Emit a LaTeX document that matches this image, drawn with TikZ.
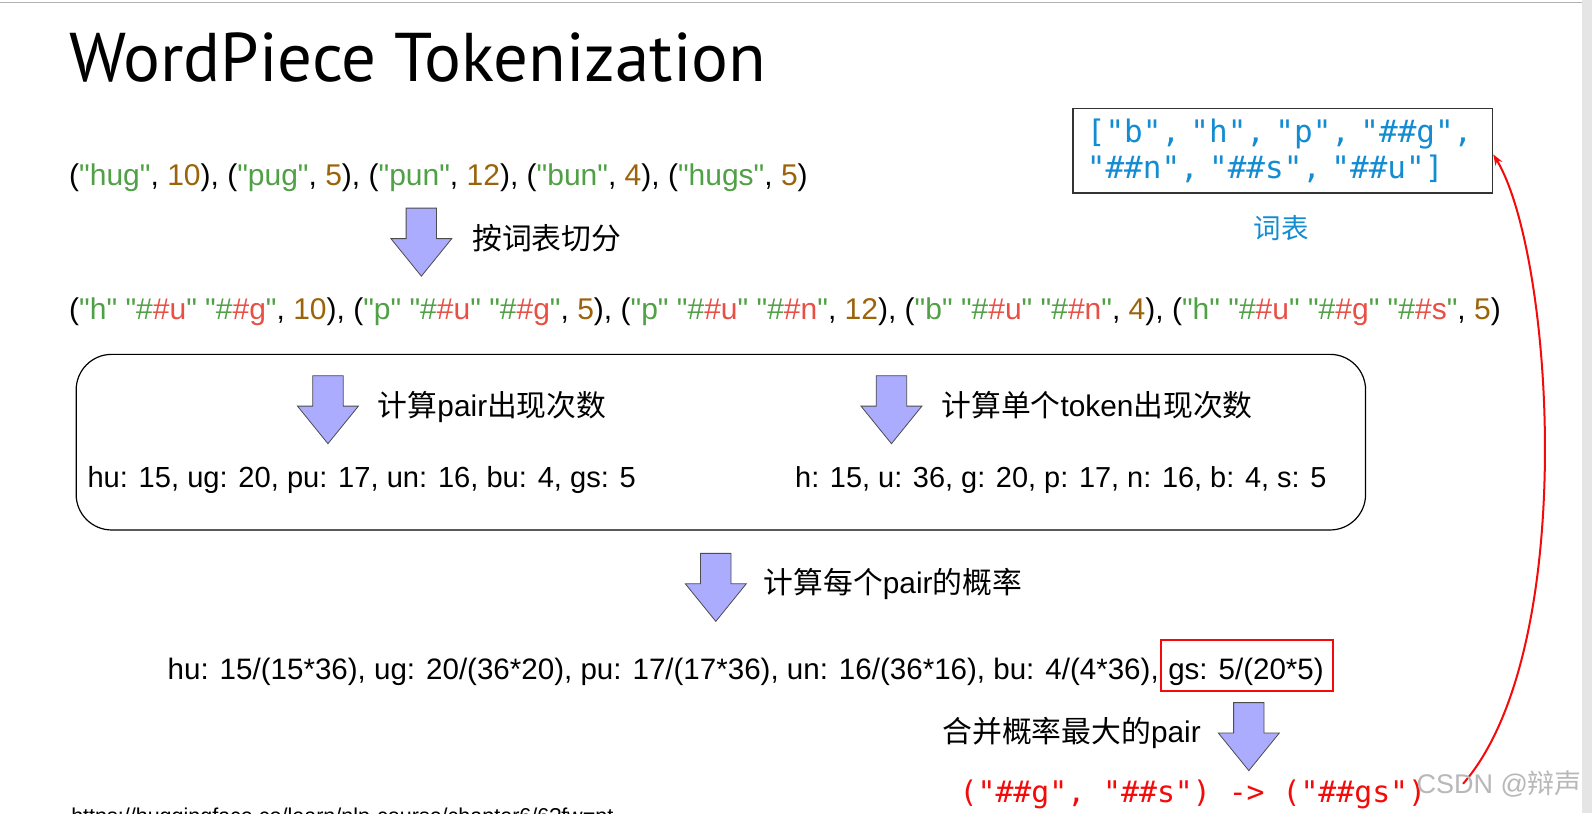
\documentclass[tikz,border=0pt]{standalone}
\usepackage{fontspec}
\setmainfont{Liberation Sans}[Ligatures=TeXOff]
\newfontfamily\cjk{Noto Sans CJK SC}
\newfontfamily\monof{DejaVu Sans Mono}[Ligatures=TeXOff]
\newfontfamily\titlef{PT Sans}
\usetikzlibrary{arrows.meta}
\definecolor{grn}{RGB}{80,160,70}
\definecolor{rd}{RGB}{232,80,70}
\definecolor{brn}{RGB}{155,100,10}
\definecolor{vblue}{RGB}{20,140,210}
\definecolor{afill}{RGB}{172,172,255}
\definecolor{pured}{RGB}{245,10,10}
\newcommand\gtxt[1]{\textcolor{grn}{#1}}
\newcommand\rtxt[1]{\textcolor{rd}{#1}}
\newcommand\ntxt[1]{\textcolor{brn}{#1}}
\newcommand\tok[1]{\gtxt{"\#}\rtxt{\##1}\gtxt{"}}
\tikzset{
  txt/.style={anchor=base west, inner sep=0pt, font=\fontsize{30}{36}\selectfont},
  cntxt/.style={anchor=base west, inner sep=0pt, font=\fontsize{29.8}{36}\selectfont},
  blockarrow/.pic={\draw[draw=black!70, fill=afill, line width=0.8pt]
     (-15,0) -- (15,0) -- (15,30) -- (30,30) -- (0,67) -- (-30,30) -- (-15,30) -- cycle;}
}
\begin{document}
\begin{tikzpicture}[x=1.0153pt,y=-1.0153pt]
\useasboundingbox (0,0) rectangle (1568,800.75);
% page frame
\fill[white] (0,0) rectangle (1568,800.75);
\fill[black!10] (1558,0) rectangle (1568,800.75);
\draw[black!30, line width=1pt] (0,2) -- (1558,2);
% title
\node[anchor=base west, inner sep=0pt, font=\titlef\fontsize{68.9}{80}\selectfont] (title) at (68,80) {WordPiece Tokenization};
% line 1
\node[txt] (words) at (68,183) {(\gtxt{"hug"}, \ntxt{10}), (\gtxt{"pug"}, \ntxt{5}), (\gtxt{"pun"}, \ntxt{12}), (\gtxt{"bun"}, \ntxt{4}), (\gtxt{"hugs"}, \ntxt{5})};
\pic (a1) at (415,205) {blockarrow};
\node[cntxt] (l1) at (465,246) {\cjk 按词表切分};
% line 2
\node[txt] (split) at (68,315) {(\gtxt{"h"} \tok{u} \tok{g}, \ntxt{10}), (\gtxt{"p"} \tok{u} \tok{g}, \ntxt{5}), (\gtxt{"p"} \tok{u} \tok{n}, \ntxt{12}), (\gtxt{"b"} \tok{u} \tok{n}, \ntxt{4}), (\gtxt{"h"} \tok{u} \tok{g} \tok{s}, \ntxt{5})};
% vocabulary box
\node[draw=black!80, line width=1.5pt, minimum width=419.3pt, minimum height=84.3pt, inner xsep=13.6pt, text width=392pt, align=left, text=vblue, font=\monof\fontsize{31}{36.5}\selectfont] (vocab) at (1263.5,148.5) {["b", "h", "p", "\#\#g",\\"\#\#n", "\#\#s", "\#\#u"]};
\node[anchor=base, inner sep=0pt, text=vblue, font=\cjk\fontsize{27.5}{30}\selectfont] (vlabel) at (1262,235) {词表};
% panel
\node[draw=black, line width=1.2pt, rounded corners=35.5pt, minimum width=1289.4pt, minimum height=175.6pt] (panel) at (710,435.5) {};
\pic (a2) at (323,370) {blockarrow};
\node[cntxt] (l2) at (372,410) {{\cjk 计算}pair{\cjk 出现次数}};
\pic (a3) at (878,370) {blockarrow};
\node[cntxt] (l3) at (927,410) {{\cjk 计算单个}token{\cjk 出现次数}};
\node[txt, font=\fontsize{29.1}{36}\selectfont] (pairs) at (86,480) {hu: 15, ug: 20, pu: 17, un: 16, bu: 4, gs: 5};
\node[txt, font=\fontsize{28.9}{36}\selectfont] (singles) at (783,480) {h: 15, u: 36, g: 20, p: 17, n: 16, b: 4, s: 5};
% probabilities
\pic (a4) at (705,545) {blockarrow};
\node[cntxt] (l4) at (752,585) {{\cjk 计算每个}pair{\cjk 的概率}};
\node[txt, font=\fontsize{29.55}{36}\selectfont] (probs) at (165,669) {hu: 15/(15*36), ug: 20/(36*20), pu: 17/(17*36), un: 16/(36*16), bu: 4/(4*36),};
\node[anchor=base west, inner sep=0pt, font=\fontsize{29.55}{36}\selectfont] (best) at ([xshift=9pt]probs.base east) {gs: 5/(20*5)};
\draw[pured, line width=2pt] ([shift={(-7,-39)}]best.base west) rectangle ([shift={(9,12)}]best.base east);
% merge
\pic (a5) at (1230,692) {blockarrow};
\node[cntxt] (l5) at (928,731) {{\cjk 合并概率最大的}pair};
\node[anchor=base west, inner sep=0pt, text=pured, font=\monof\fontsize{29.8}{36}\selectfont] (res) at (945,790) {("\#\#g", "\#\#s") -> ("\#\#gs")};
\coordinate (resend) at (1441,772);
\draw[pured, line width=2pt, -{Stealth[length=11pt,width=8pt]}] (resend) .. controls (1556,640) and (1530,250) .. (vocab.east |- 0,152);
% watermark & cut-off source line
\node[anchor=base west, inner sep=0pt, text=black!28, font=\fontsize{27}{30}\selectfont] (wm) at (1395,782) {CSDN @{\cjk 辩声}};
\node[anchor=base west, inner sep=0pt, font=\fontsize{21.5}{25}\selectfont] (url) at (70,811) {https://huggingface.co/learn/nlp-course/chapter6/6?fw=pt};
\end{tikzpicture}
\end{document}
